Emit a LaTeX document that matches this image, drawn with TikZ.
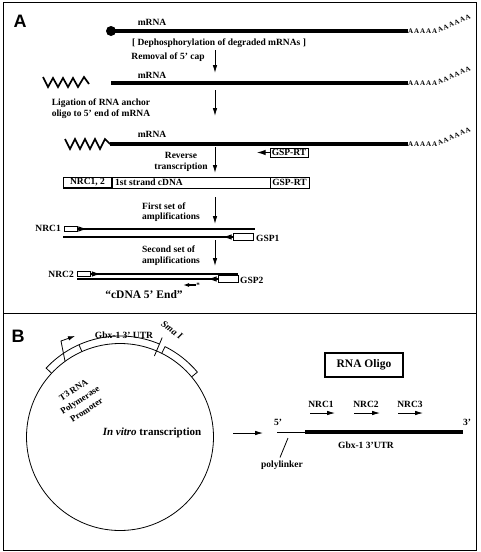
\documentclass[tikz,border=0pt]{standalone}
\usepackage{fontspec}
\setmainfont{Liberation Serif}
\newfontfamily\panelfont{Liberation Sans}
\usetikzlibrary{arrows.meta,decorations.text}

\begin{document}
\begin{tikzpicture}[x=1pt,y=-1pt,
    txt/.style={font=\bfseries\fontsize{9.5}{10.5}\selectfont,inner sep=0pt,align=center},
    big/.style={font=\bfseries\fontsize{11.5}{12}\selectfont,inner sep=0pt},
    panel/.style={font=\panelfont\bfseries\fontsize{18}{18}\selectfont,inner sep=0pt},
    stepar/.style={line width=0.8pt,-{Latex[length=8pt,width=4.5pt]}},
    tipar/.style={line width=1.2pt,-{Latex[length=9pt,width=5.5pt]}},
    rna/.style={line width=4.5pt},
    strand/.style={line width=1.4pt},
    oligo/.style={line width=1.7pt,line join=miter},
    primer/.style={draw,line width=0.7pt,minimum width=13pt,minimum height=4.5pt,inner sep=0pt},
    gsp/.style={primer,minimum width=20pt,minimum height=6.5pt},
    polyA/.style={decorate,decoration={text along path,text align=fit to path,raise=-2.5pt,
        text={|\bfseries\fontsize{7}{7}\selectfont|AAAAAAAAAAA}}}]

\useasboundingbox (0,0) rectangle (480,552);
\draw[line width=0.8pt] (3,2) rectangle (476,550);
\draw[line width=0.8pt] (3,313) -- (476,313);

% ---------------- panel A
\node[panel] (pA) at (20,21) {A};

% capped mRNA
\fill (111,31) circle (5pt);
\draw[rna] (111,31) -- (408,31);
\path[polyA] (408,31) -- (436,31) -- (470,16);
\node[txt] (m1) at (152,22) {mRNA};
\node[txt] (deph) at (219,43) {[ Dephosphorylation of degraded mRNAs ]};
\node[txt] (cap) at (168,57) {Removal of 5' cap};
\coordinate (a1s) at (215,50);
\coordinate (a1e) at (215,73);
\draw[stepar] (a1s) -- (a1e);

% decapped mRNA and anchor oligo
\draw[oligo] (43,77) -- (48,87) -- (53,78) -- (58,87) -- (63,78) -- (68,87)
    -- (73,78) -- (78,87) -- (84,77) -- (89,84);
\draw[rna] (111,83) -- (408,83);
\path[polyA] (408,83) -- (436,83) -- (470,68);
\node[txt] (m2) at (152,75) {mRNA};
\node[txt] (lig) at (101,108.5) {Ligation of RNA anchor\\oligo to 5' end of mRNA};
\coordinate (a2s) at (215,90);
\coordinate (a2e) at (215,116);
\draw[stepar] (a2s) -- (a2e);

% ligated mRNA
\draw[oligo] (65,139) -- (70,149) -- (75,139) -- (80,149) -- (85,139) -- (90,149)
    -- (95,139) -- (100,149) -- (105,139) -- (110,144);
\draw[rna] (110,144) -- (408,144);
\path[polyA] (408,144) -- (436,144) -- (470,129);
\node[txt] (m3) at (152,134) {mRNA};
\node[txt,draw,line width=0.7pt,minimum width=38pt,minimum height=9pt] (gsprt) at (289,152.5) {GSP-RT};
\draw[tipar] (gsprt.west) -- ++(-13,0);
\node[txt] (rt) at (181,162) {Reverse\\transcription};
\coordinate (a3s) at (215,147);
\coordinate (a3e) at (215,173);
\draw[stepar] (a3s) -- (a3e);

% first strand cDNA
\draw[line width=0.8pt] (63,177) rectangle (309,188);
\draw[line width=1.6pt] (63.5,177.5) rectangle (112,187.5);
\draw[line width=0.8pt] (270,177) -- (270,188);
\node[txt] (nrc12) at (87.5,182.5) {NRC1, 2};
\node[txt,anchor=west] (cdna) at (115,182.5) {1st strand cDNA};
\node[txt] (gsprt2) at (289.5,182.5) {GSP-RT};
\coordinate (a4s) at (215,197);
\coordinate (a4e) at (215,224);
\draw[stepar] (a4s) -- (a4e);
\node[txt,align=left,anchor=west] (first) at (142,212) {First set of\\amplifications};

% first amplification
\node[primer] (p1) at (70.5,229) {};
\node[txt,anchor=east] (nrc1) at (61,228) {NRC1};
\draw[strand] (p1.east) -- (255,229);
\draw[tipar] (p1.east) -- ++(10,0);
\node[gsp] (g1) at (243,237) {};
\node[txt,anchor=west] (gsp1) at (256,238) {GSP1};
\draw[strand] (63,237) -- (g1.west);
\draw[tipar] (g1.west) -- ++(-10,0);
\coordinate (a5s) at (215,240);
\coordinate (a5e) at (215,266);
\draw[stepar] (a5s) -- (a5e);
\node[txt,align=left,anchor=west] (second) at (142,255.5) {Second set of\\amplifications};

% second amplification
\node[primer] (p2) at (84,274) {};
\node[txt,anchor=east] (nrc2) at (74,274) {NRC2};
\draw[strand] (p2.east) -- (238,274);
\draw[tipar] (p2.east) -- ++(10,0);
\node[gsp] (g2) at (228,279) {};
\node[txt,anchor=west] (gsp2) at (240,280) {GSP2};
\draw[strand] (77,279) -- (g2.west);
\draw[tipar] (g2.west) -- ++(-10,0);
\node[font=\bfseries\fontsize{7}{7}\selectfont,inner sep=0pt] (star) at (198,285) {*};
\draw[line width=1.2pt,-{Latex[length=6pt,width=4pt]}] (star.west) -- ++(-13,0);
\node[big] (end5) at (144,295) {``cDNA 5' End''};

% ---------------- panel B
\node[panel] (pB) at (18,336) {B};

\begin{scope}[shift={(120,437)}]
  \draw[line width=0.8pt] (0,0) circle (93.5pt);
  % T3 promoter, Gbx-1 3' UTR and vector segments
  \draw[line width=0.8pt] (137:93.5pt) -- (137:101pt) arc[start angle=137,end angle=67,radius=101pt];
  \draw[line width=0.8pt] (114:93.5pt) -- (114:101pt);
  \draw[line width=0.8pt] (63.5:93.5pt) -- (63.5:101pt) arc[start angle=63.5,end angle=40,radius=101pt] -- (40:93.5pt);
  \draw[line width=0.8pt] (67:88pt) -- (67:108pt);
  \coordinate (t3a) at (126:93.5pt);
\end{scope}
\coordinate (t3b) at (61,341);
\draw[line width=0.8pt,-{Latex[length=7pt,width=4.5pt]}] (t3a) -- (t3b) -- (75,336);
\node[txt] (utr) at (124,335) {Gbx-1 3' UTR};
\node[txt,font=\bfseries\itshape\fontsize{9.5}{10}\selectfont,rotate=-35] (sma) at (172,330) {Sma I};
\node[txt,font=\bfseries\fontsize{9}{12}\selectfont,rotate=33] (t3) at (80,400) {T3 RNA\\Polymerase\\Promoter};
\node[txt,font=\bfseries\fontsize{11}{12}\selectfont] (ivt) at (152,433) {\textit{In vitro} transcription};
\coordinate (ivs) at (233,433);
\coordinate (ive) at (263,433);
\draw[stepar] (ivs) -- (ive);

% RNA oligo
\node[big,draw,line width=2pt,minimum width=78pt,minimum height=24pt] (oligo) at (364,365) {RNA Oligo};
\node[txt] (n1) at (321,404) {NRC1};
\node[txt] (n2) at (366,404) {NRC2};
\node[txt] (n3) at (410,404) {NRC3};
\draw[stepar] (310,413) -- (335,413);
\draw[stepar] (354,413) -- (380,413);
\draw[stepar] (398,413) -- (423,413);
\node[txt] (p5) at (278,422) {5'};
\node[txt] (p3) at (467,422) {3'};
\coordinate (o5) at (277,432);
\coordinate (ol) at (305,432);
\coordinate (o3) at (463,432);
\draw[line width=0.8pt] (o5) -- (ol);
\draw[line width=4pt] (ol) -- (o3);
\node[txt] (utr2) at (366,445) {Gbx-1 3'UTR};
\node[txt] (poly) at (282,465) {polylinker};
\draw[line width=0.8pt] (poly.north) ++(-2,-3) -- (288,438);
\end{tikzpicture}
\end{document}
